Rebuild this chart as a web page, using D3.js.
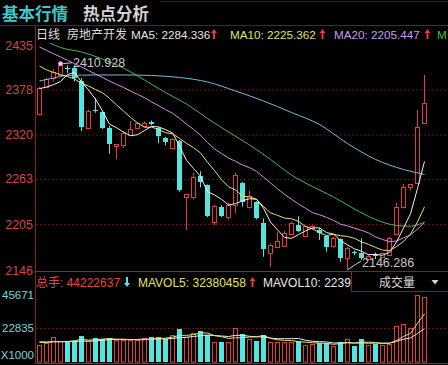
<html>
<head>
<meta charset="utf-8">
<script src="https://d3js.org/d3.v7.min.js"></script>
<style>
  body { margin: 0; background: #000; }
  svg { display: block; }
  text { font-family: "Liberation Sans", Arial, "Noto Sans CJK SC", sans-serif; }
</style>
</head>
<body>
<script>
const W = 448, H = 365;

// 房地产开发 daily candles
const opens  = [2346, 2381.4, 2392.2, 2396.5, 2405.5, 2405, 2388.8, 2328.8, 2351.5, 2348.5,
                2328.8, 2305.7, 2306.6, 2319.4, 2329, 2331.6, 2336, 2328.8, 2315, 2303.3,
                2312, 2239.6, 2239.6, 2266.7, 2255, 2208, 2227.3, 2213.7, 2229.5, 2258,
                2226.5, 2233.7, 2206, 2167.4, 2176, 2176.8, 2192.5, 2204, 2190, 2200.5,
                2198, 2189.7, 2177, 2185.4, 2161, 2168.7, 2167.4, 2160, 2166, 2163,
                2165, 2192, 2227.3, 2252, 2257.4, 2334.5];
const highs  = [2381, 2393, 2404, 2410.928, 2409, 2407, 2392.6, 2352, 2367, 2350,
                2331, 2307.5, 2324, 2337.4, 2336, 2337, 2338, 2330, 2317, 2315,
                2313, 2243.5, 2271, 2273, 2256, 2230, 2229.5, 2232.5, 2271, 2259,
                2247.8, 2234.5, 2212.3, 2180.3, 2195, 2196.5, 2208, 2215, 2203, 2204,
                2200, 2191, 2188.5, 2186.5, 2176, 2171, 2186.7, 2166, 2168.5, 2168.5,
                2188.5, 2232.5, 2256.5, 2256.5, 2351.5, 2396.5];
const lows   = [2345, 2380, 2388, 2394, 2399, 2388, 2324.5, 2327, 2348, 2327,
                2295.4, 2288, 2302.5, 2318.5, 2328, 2330, 2332, 2308.7, 2306, 2302,
                2246.6, 2197.4, 2236.7, 2252, 2214, 2203.8, 2214, 2210.5, 2218.8, 2227.3,
                2225, 2211, 2163, 2150.2, 2174, 2176, 2191, 2194.5, 2189, 2198,
                2184.5, 2169.5, 2175, 2156.7, 2146.286, 2165, 2159, 2158, 2160, 2162,
                2164, 2190.5, 2225, 2248, 2256.5, 2334.5];
const closes = [2379.4, 2391.3, 2400.7, 2409.3, 2405, 2392.2, 2330, 2350.2, 2350, 2328.8,
                2307.5, 2307.5, 2321.6, 2327.1, 2335, 2334.5, 2334, 2318.5, 2310, 2313.9,
                2248.8, 2243.5, 2265.8, 2259.4, 2215.3, 2228.3, 2215.3, 2229.5, 2268, 2233.7,
                2241, 2212.3, 2172.6, 2178.1, 2183.5, 2193.1, 2206, 2196.5, 2202, 2203,
                2193, 2176, 2186.7, 2161, 2174, 2168, 2161, 2164, 2164, 2167.4,
                2187, 2227.3, 2253, 2256.5, 2330, 2361];
// 成交量, x1000
const volumes = [11248, 12407, 16906, 13975, 13498, 13975, 17383, 13975, 15815, 15134,
                 16224, 14452, 14452, 14452, 14452, 16224, 16702, 16702, 15338, 18065,
                 22155, 16906, 19224, 20792, 18065, 13089, 13498, 13089, 23041, 18542,
                 15338, 13975, 18065, 13089, 13498, 13498, 13498, 13975, 11248, 11725,
                 12407, 12407, 10771, 13498, 15338, 10771, 15000, 11500, 12200, 11500,
                 12200, 24000, 25500, 22500, 45671, 44223];

// averages whose window starts before the first visible candle
const ma5Lead  = [2379, 2381, 2384, 2388];
const ma10Lead = [2408, 2403, 2399.7, 2397, 2394.5, 2391.3, 2386, 2382.3, 2377.8];
const ma20Lead = [2432.4, 2428.2, 2423.8, 2419.6, 2415.3, 2411, 2406.7, 2402.2, 2397.7, 2393.3,
                  2388.7, 2384.5, 2380.4, 2375.9, 2371.7, 2367.3, 2362, 2357, 2352];
const mavol5Lead  = [13100, 12900, 13600, 13500];
const mavol10Lead = [13400, 13300, 13400, 13500, 13600, 13700, 13900, 13900, 14000];

// slow lines, read at sample candles
const ma30Idx = [0, 3, 6, 9, 12, 15, 18, 21, 24, 27, 30, 33, 36, 39, 42, 45, 48, 51, 53, 55];
const ma30Val = [2444.6, 2431.8, 2426, 2417, 2405.4, 2390, 2374, 2359.2, 2340.6, 2323.2,
                 2306.6, 2288, 2268, 2253.2, 2239.8, 2224.3, 2210.9, 2203.2, 2202.3, 2207.6];
const ma60Idx = [0, 2, 4, 8, 12, 16, 20, 24, 28, 32, 36, 40, 44, 48, 52, 55];
const ma60Val = [2388.8, 2392.6, 2395.8, 2396.5, 2396.5, 2395.8, 2393.3, 2387.5, 2375.9, 2363.1,
                 2348.3, 2332.9, 2308.5, 2288, 2275.1, 2268.7];

const priceTicks = [2435, 2378, 2320, 2263, 2205, 2146];
const volTicks = [45671, 22835];

const maLabels = ["MA5: 2284.336", "MA10: 2225.362", "MA20: 2205.447", "M"];
const volLabels = ["总手: 44222637", "MAVOL5: 32380458", "MAVOL10: 2239"];

const UP = "#e23c3c", DOWN = "#52e6e0", FRAME = "#7c1616";

function movingAvg(vals, lead, n) {
  return vals.map((v, i) => i < n - 1 ? lead[i] : d3.mean(vals.slice(i - n + 1, i + 1)));
}

var svg = d3.select("body").append("svg")
  .attr("width", W).attr("height", H)
  .style("background", "#000");

var x = d3.scaleBand().domain(d3.range(closes.length))
  .range([36, 428]).paddingInner(2 / 7).paddingOuter(1 / 7);
var cx = i => x(i) + x.bandwidth() / 2;
var y = d3.scaleLinear().domain([2146, 2435]).range([270, 45]);
var yv = d3.scaleLinear().domain([0, 45671]).range([361.5, 294.5]);
var px = v => Math.round(v) + 0.5;

var candles = closes.map((c, i) => ({i: i, o: opens[i], h: highs[i], l: lows[i], c: c,
  v: volumes[i], up: c > opens[i]}));

// tabs
svg.append("text").attr("x", 2).attr("y", 19.5).text("基本行情")
  .style("font-family", "Noto Sans CJK SC").style("font-weight", "bold")
  .style("font-size", "16.5px").attr("fill", "#3cc9cc");
svg.append("text").attr("x", 83).attr("y", 19.5).text("热点分析")
  .style("font-family", "Noto Sans CJK SC").style("font-weight", "bold")
  .style("font-size", "16.5px").attr("fill", "#d2d2d2");

// frame
svg.append("line").attr("x1", 160).attr("x2", W).attr("y1", 1.5).attr("y2", 1.5).attr("stroke", "#5a0e0e");
svg.append("line").attr("x1", 0).attr("x2", W).attr("y1", 25.5).attr("y2", 25.5).attr("stroke", FRAME);
svg.append("line").attr("x1", 35.5).attr("x2", 35.5).attr("y1", 25).attr("y2", 364).attr("stroke", "#8e1c1c");
svg.append("line").attr("x1", 35).attr("x2", W).attr("y1", 271.5).attr("y2", 271.5).attr("stroke", "#a82222");
svg.append("line").attr("x1", 35).attr("x2", W).attr("y1", 363.5).attr("y2", 363.5).attr("stroke", "#a82222");

// grid
var grid = svg.append("g").attr("transform", "translate(36,0)")
  .call(d3.axisRight(y).tickValues(priceTicks.slice(1, -1)).tickSize(W - 36).tickFormat(""));
grid.select(".domain").remove();
grid.selectAll("line").attr("stroke", "#6a1212").attr("stroke-dasharray", "2,2");

var vgrid = svg.append("g").attr("transform", "translate(36,0)")
  .call(d3.axisRight(yv).tickValues(volTicks.slice(1)).tickSize(W - 36).tickFormat(""));
vgrid.select(".domain").remove();
vgrid.selectAll("line").attr("stroke", "#6a1212").attr("stroke-dasharray", "2,2");

// axes labels
var yAxis = svg.append("g").attr("transform", "translate(34,0)")
  .call(d3.axisLeft(y).tickValues(priceTicks).tickSize(0).tickPadding(1).tickFormat(d3.format("d")));
yAxis.select(".domain").remove();
yAxis.selectAll("text").attr("fill", "#d24646").style("font-size", "12.5px")
  .style("font-family", "'Liberation Sans', Arial, sans-serif");

var vAxis = svg.append("g").attr("transform", "translate(34.5,0)")
  .call(d3.axisLeft(yv).tickValues(volTicks).tickSize(0).tickPadding(0.5).tickFormat(d3.format("d")));
vAxis.select(".domain").remove();
vAxis.selectAll("text").attr("fill", "#7ad6dc").style("font-size", "11.5px")
  .style("font-family", "'Liberation Sans', Arial, sans-serif");
svg.append("text").attr("x", 34).attr("y", 358.5).attr("text-anchor", "end")
  .attr("fill", "#7ad6dc").style("font-size", "11.5px").text("X1000");

// header row
var hdr = svg.append("g").style("font-size", "11.7px");
hdr.append("text").attr("x", 36).attr("y", 39).attr("fill", "#dcdcdc").style("font-size", "12px").text("日线");
hdr.append("text").attr("x", 67).attr("y", 39).attr("fill", "#dcdcdc").style("font-size", "12px").text("房地产开发");
var maX = [131, 230, 334, 437], maCol = ["#e4e4e4", "#e2e06a", "#c49cf0", "#44c044"];
maLabels.forEach((t, k) => hdr.append("text").attr("x", maX[k]).attr("y", 39).attr("fill", maCol[k]).text(t));

function arrow(g, ax, ay, dir, col) {
  // ay = tip
  var s = dir;
  g.append("path").attr("fill", col)
    .attr("d", `M${ax},${ay} L${ax + 3},${ay + 4 * s} L${ax + 1},${ay + 4 * s} L${ax + 1},${ay + 10 * s} ` +
               `L${ax - 1},${ay + 10 * s} L${ax - 1},${ay + 4 * s} L${ax - 3},${ay + 4 * s} Z`);
}
[214, 322.5, 427.5].forEach(ax => arrow(svg, ax, 29, 1, "#e43a3a"));

// candles
var plot = svg.append("g").attr("clip-path", "url(#clip)");
svg.append("clipPath").attr("id", "clip").append("rect")
  .attr("x", 36).attr("y", 43).attr("width", W - 36).attr("height", 228);

plot.selectAll(".wick").data(candles).enter().append("path").attr("class", "wick")
  .attr("stroke", d => d.up ? UP : DOWN).attr("fill", "none")
  .attr("d", function (d) {
    var xx = px(cx(d.i) - 0.5);
    var top = Math.round(y(Math.max(d.o, d.c))), bot = Math.round(y(Math.min(d.o, d.c)));
    if (!d.up) return `M${xx},${y(d.h)} V${y(d.l)}`;
    return `M${xx},${y(d.h)} V${top} M${xx},${bot + 1} V${y(d.l)}`;
  });

plot.selectAll(".body").data(candles).enter().append("rect").attr("class", "body")
  .attr("x", d => d.up ? x(d.i) + 0.5 : x(d.i))
  .attr("width", d => d.up ? x.bandwidth() - 1 : x.bandwidth())
  .attr("y", d => {
    var t = Math.round(y(Math.max(d.o, d.c)));
    return d.up ? t + 0.5 : t;
  })
  .attr("height", d => {
    var h = Math.round(y(Math.min(d.o, d.c))) - Math.round(y(Math.max(d.o, d.c)));
    return d.up ? Math.max(h, 0.01) : Math.max(h, 1);
  })
  .attr("fill", d => d.up ? "#000" : DOWN)
  .attr("stroke", d => d.up ? UP : "none");

// moving averages
var ma5 = movingAvg(closes, ma5Lead, 5);
var ma10 = movingAvg(closes, ma10Lead, 10);
var ma20 = movingAvg(closes, ma20Lead, 20);
var line = d3.line().x((d, i) => cx(i)).y(d => y(d));
var sparse = d3.line().x(d => cx(d[0])).y(d => y(d[1])).curve(d3.curveMonotoneX);

plot.append("path").attr("d", sparse(d3.zip(ma60Idx, ma60Val))).attr("stroke", "#76bcdc").attr("fill", "none");
plot.append("path").attr("d", sparse(d3.zip(ma30Idx, ma30Val))).attr("stroke", "#4cb64c").attr("fill", "none");
plot.append("path").attr("d", line(ma20)).attr("stroke", "#d68ee6").attr("fill", "none");
plot.append("path").attr("d", line(ma10)).attr("stroke", "#e6e276").attr("fill", "none");
plot.append("path").attr("d", line(ma5)).attr("stroke", "#f0f0f0").attr("fill", "none");

// high / low marks
var hi = d3.maxIndex(highs), lo = d3.minIndex(lows);
svg.append("line").attr("x1", cx(hi) + 2).attr("y1", y(highs[hi])).attr("x2", 72).attr("y2", y(highs[hi]) - 1)
  .attr("stroke", "#c8c8c8");
svg.append("circle").attr("cx", cx(hi)).attr("cy", y(highs[hi])).attr("r", 2.3)
  .attr("fill", "#f2c6f0").attr("stroke", "#c070c0").attr("stroke-width", 0.6);
svg.append("text").attr("x", 73).attr("y", y(highs[hi]) + 3).attr("fill", "#c8c8c8")
  .style("font-size", "12.5px").text(d3.format(".3f")(highs[hi]));
svg.append("line").attr("x1", cx(lo)).attr("y1", y(lows[lo])).attr("x2", 361).attr("y2", 261)
  .attr("stroke", "#c8c8c8");
svg.append("text").attr("x", 362).attr("y", 266.5).attr("fill", "#c8c8c8")
  .style("font-size", "12.5px").text(d3.format(".3f")(lows[lo]));

// volume header
var vh = svg.append("g").style("font-size", "12px");
vh.append("text").attr("x", 36).attr("y", 286.5).attr("fill", "#e04848").text(volLabels[0]);
arrow(vh, 127, 287, -1, "#52e6e0");
vh.append("text").attr("x", 138).attr("y", 286.5).attr("fill", "#e2e06a").text(volLabels[1]);
arrow(vh, 252.5, 277, 1, "#e43a3a");
vh.append("text").attr("x", 263).attr("y", 286.5).attr("fill", "#e8e8e8").text(volLabels[2]);

svg.append("rect").attr("x", 351.5).attr("y", 271.5).attr("width", 100).attr("height", 20)
  .attr("fill", "#000").attr("stroke", "#8e1c1c");
svg.append("text").attr("x", 379).attr("y", 287).attr("fill", "#d6d6d6")
  .style("font-size", "12px").text("成交量");
svg.append("path").attr("d", "M431.5,280 L438.5,280 L435,284.5 Z").attr("fill", "#d6d6d6");

// volume bars
svg.selectAll(".vol").data(candles).enter().append("rect").attr("class", "vol")
  .attr("x", d => d.up ? x(d.i) + 0.5 : x(d.i))
  .attr("width", d => d.up ? x.bandwidth() - 1 : x.bandwidth())
  .attr("y", d => d.up ? Math.round(yv(d.v)) + 0.5 : Math.round(yv(d.v)))
  .attr("height", d => d.up ? 362 - Math.round(yv(d.v)) - 0.5 : 362 - Math.round(yv(d.v)))
  .attr("fill", d => d.up ? "#000" : DOWN)
  .attr("stroke", d => d.up ? UP : "none");

var mavol5 = movingAvg(volumes, mavol5Lead, 5);
var mavol10 = movingAvg(volumes, mavol10Lead, 10);
var vline = d3.line().x((d, i) => cx(i)).y(d => yv(d));
svg.append("path").attr("d", vline(mavol10)).attr("stroke", "#eeeeee").attr("fill", "none");
svg.append("path").attr("d", vline(mavol5)).attr("stroke", "#e6e276").attr("fill", "none");
</script>
</body>
</html>
